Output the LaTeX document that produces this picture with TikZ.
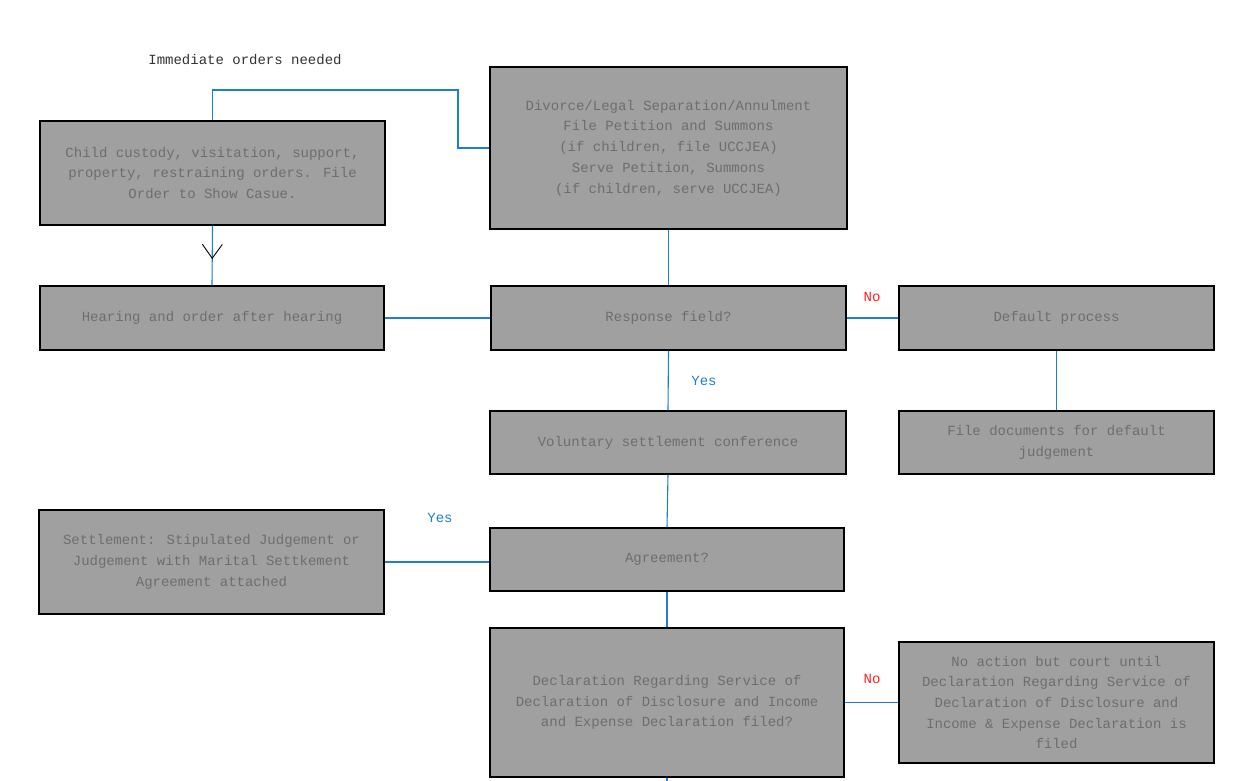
\documentclass[tikz,border=0pt]{standalone}
\usepackage{fontspec}
\setmainfont{Liberation Mono}
\usepackage{xcolor}
\definecolor{boxfill}{HTML}{A0A0A0}
\definecolor{boxtext}{HTML}{6E6E6E}
\definecolor{flowblue}{HTML}{1E7FD2}
\definecolor{noRed}{HTML}{FF2020}
\usetikzlibrary{arrows.meta,decorations.markings}
\tikzset{
	procbox/.style={draw=black,line width=1.1pt,fill=boxfill,text=boxtext,align=center,
		font=\fontsize{14}{20.7}\selectfont,inner sep=0pt},
	flow/.style={draw=flowblue,line width=1.1pt},
	lbl/.style={font=\fontsize{14}{17}\selectfont}
}

\begin{document}
\begin{tikzpicture}[x=1pt,y=-1pt]
	\useasboundingbox[fill=white] (0,0) rectangle (1250,781);
	% left column
	\node[procbox,minimum width=345,minimum height=104] (cust) at (212.5,173)
		{Child custody, visitation, support,\\property, restraining orders. File\\Order to Show Casue.};
	\node[procbox,minimum width=344,minimum height=64] (hear) at (212,318) {Hearing and order after hearing};
	\node[procbox,minimum width=345,minimum height=104] (settle) at (211.5,562)
		{Settlement: Stipulated Judgement or\\Judgement with Marital Settkement\\Agreement attached};
	% middle column
	\node[procbox,minimum width=357,minimum height=162] (divorce) at (668.5,148)
		{Divorce/Legal Separation/Annulment\\File Petition and Summons\\(if children, file UCCJEA)\\Serve Petition, Summons\\(if children, serve UCCJEA)};
	\node[procbox,minimum width=355,minimum height=64] (resp) at (668.5,318) {Response field?};
	\node[procbox,minimum width=356,minimum height=63] (vsc) at (668,442.5) {Voluntary settlement conference};
	\node[procbox,minimum width=354,minimum height=63] (agree) at (667,559.5) {Agreement?};
	\node[procbox,minimum width=354,minimum height=149] (decl) at (667,702.5)
		{Declaration Regarding Service of\\Declaration of Disclosure and Income\\and Expense Declaration filed?};
	% right column
	\node[procbox,minimum width=315,minimum height=64] (dflt) at (1056.5,318) {Default process};
	\node[procbox,minimum width=315,minimum height=63] (filedoc) at (1056.5,442.5) {File documents for default\\judgement};
	\node[procbox,minimum width=315,minimum height=121] (noact) at (1056.5,702.5)
		{No action but court until\\Declaration Regarding Service of\\Declaration of Disclosure and\\Income \& Expense Declaration is\\filed};
	% connectors
	\coordinate (bend) at (458,90);
	\coordinate (down) at (667,781);
	\draw[flow] (cust.north) |- (bend) |- (divorce.west);
	\draw[flow,postaction={decorate},decoration={markings,
		mark=at position 0.56 with {\arrow[black,line width=0.9pt]{Straight Barb[length=14pt,width=20pt]}}}]
		(cust.south) -- (hear.north);
	\draw[flow] (hear.east) -- (resp.west);
	\draw[flow] (divorce.south) -- (resp.north);
	\draw[flow] (resp.east) -- (dflt.west);
	\draw[flow] (resp.south) -- (vsc.north);
	\draw[flow] (dflt.south) -- (filedoc.north);
	\draw[flow] (vsc.south) -- (agree.north);
	\draw[flow] (agree.west |- settle.east) -- (settle.east);
	\draw[flow] (agree.south) -- (decl.north);
	\draw[flow] (decl.east) -- (noact.west);
	\draw[flow] (decl.south) -- (down);
	% labels
	\node[lbl,text=black!80] (imm) at (245,60) {Immediate orders needed};
	\node[lbl,text=noRed] (no1) at (872,297) {No};
	\node[lbl,text=flowblue] (yes1) at (704,381) {Yes};
	\node[lbl,text=flowblue] (yes2) at (440,518) {Yes};
	\node[lbl,text=noRed] (no2) at (872,679) {No};
\end{tikzpicture}
\end{document}
